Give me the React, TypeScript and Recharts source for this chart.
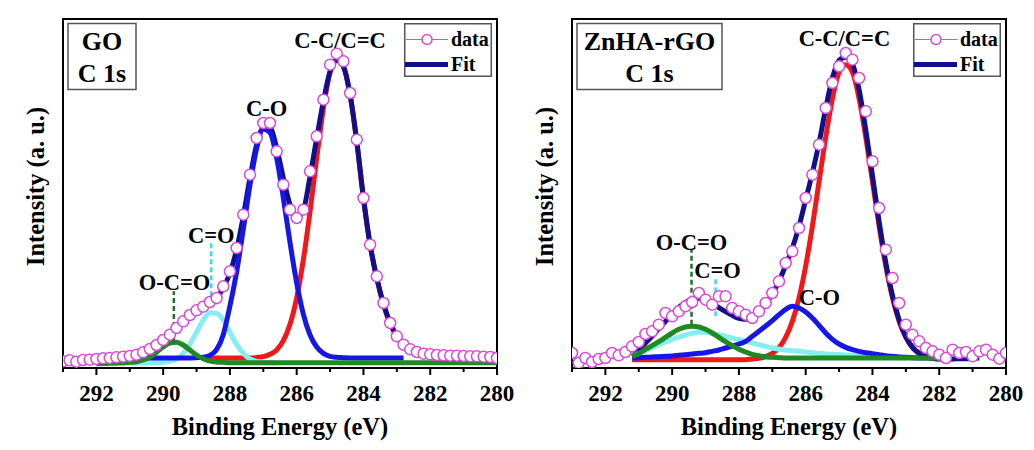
import {
  ComposedChart,
  Line,
  XAxis,
  YAxis,
  ReferenceArea,
  ReferenceDot,
  ReferenceLine,
  Legend,
} from "recharts";

const SERIF = "Liberation Serif, Times New Roman, DejaVu Serif, serif";

const COLORS = {
  data: "#d84ad8",
  fit: "#10108a",
  cc: "#f01818",
  co: "#1616e6",
  c_o: "#84eef2",
  oco: "#1f8a22",
  dashCyan: "#45d6e6",
  dashGreen: "#236e2c",
};

// binding energy grid (eV), shared by both spectra
const ENERGY = [
  293.0, 292.8, 292.6, 292.4, 292.2, 292.0, 291.8, 291.6, 291.4, 291.2,
  291.0, 290.8, 290.6, 290.4, 290.2, 290.0, 289.8, 289.6, 289.4, 289.2,
  289.0, 288.8, 288.6, 288.4, 288.2, 288.0, 287.8, 287.6, 287.4, 287.2,
  287.0, 286.8, 286.6, 286.4, 286.2, 286.0, 285.8, 285.6, 285.4, 285.2,
  285.0, 284.8, 284.6, 284.4, 284.2, 284.0, 283.8, 283.6, 283.4, 283.2,
  283.0, 282.8, 282.6, 282.4, 282.2, 282.0, 281.8, 281.6, 281.4, 281.2,
  281.0, 280.8, 280.6, 280.4, 280.2, 280.0,
];

const TICKS = [293, 292, 291, 290, 289, 288, 287, 286, 285, 284, 283, 282, 281, 280];

// ---- GO, C 1s ----
const GO_DATA = [
  2.0, 2.3, 1.9, 2.4, 2.5, 2.7, 2.9, 3.0, 3.2, 3.4,
  3.6, 4.0, 4.7, 5.7, 6.9, 8.4, 10.0, 12.0, 14.0, 15.9,
  17.3, 18.4, 19.8, 21.0, 24.5, 29.0, 36.0, 46.0, 58.0, 69.0,
  73.5, 73.5, 65.0, 55.0, 47.5, 45.0, 47.5, 59.0, 69.5, 80.5,
  91.0, 94.3, 92.0, 82.5, 68.5, 51.0, 37.0, 27.5, 19.5, 13.5,
  9.5, 7.0, 5.6, 4.8, 4.3, 4.1, 3.9, 3.8, 3.7, 3.7,
  3.6, 3.5, 3.5, 3.4, 3.3, 3.0,
];
const GO_FIT = [
  2.3, 2.3, 2.4, 2.5, 2.6, 2.7, 2.9, 3.0, 3.2, 3.4,
  3.7, 4.1, 4.7, 5.6, 6.8, 8.2, 9.9, 11.8, 13.6, 15.3,
  16.8, 18.1, 19.4, 21.0, 24.0, 28.5, 35.5, 45.5, 57.0, 67.0,
  72.0, 72.0, 66.0, 57.0, 49.0, 45.5, 47.5, 57.5, 69.0, 80.0,
  89.0, 92.5, 90.5, 82.0, 68.0, 51.0, 37.0, 27.0, 19.3, 13.6,
  9.6, 7.1, 5.6, 4.8, 4.3, 4.0, 3.9, 3.8, 3.7, 3.6,
  3.6, 3.5, 3.5, 3.4, 3.3, 3.2,
];
const GO_CC = [
  null, null, null, null, null, null, null, null, null, null,
  null, null, null, null, null, null, null, null, null, null,
  null, 3.0, 3.0, 3.0, 3.0, 3.0, 3.0, 3.0, 3.0, 3.15,
  3.4, 4.1, 5.4, 8.2, 13.1, 21.1, 32.5, 47.0, 63.0, 77.9,
  88.6, 92.3, 90.3, 81.8, 67.8, 50.8, 36.8, 26.8, 19.0, 13.3,
  9.3, 6.8, 5.3, 4.4, 3.8, 3.4, 3.2, 3.1, 3.0, null,
  null, null, null, null, null, null,
];
const GO_CO = [
  null, null, null, null, null, null, null, null, null, null,
  3.0, 3.0, 3.0, 3.0, 3.0, 3.0, 3.0, 3.0, 3.0, 3.0,
  3.1, 3.2, 3.8, 5.5, 10.0, 18.6, 28.8, 41.6, 54.9, 65.9,
  71.7, 70.6, 63.0, 51.0, 37.6, 25.5, 16.1, 9.9, 6.3, 4.4,
  3.5, 3.2, 3.1, 3.0, 3.0, 3.0, 3.0, 3.0, 3.0, 3.0,
  3.0, 3.0, null, null, null, null, null, null, null, null,
  null, null, null, null, null, null,
];
const GO_C_O = [
  null, null, null, null, null, null, null, null, null, null,
  1.5, 1.5, 1.5, 1.5, 1.6, 1.7, 2.0, 2.7, 4.4, 7.1,
  10.7, 14.4, 16.6, 16.4, 14.4, 10.7, 7.1, 4.4, 2.7, 2.0,
  1.7, 1.6, 1.5, null, null, null, null, null, null, null,
  null, null, null, null, null, null, null, null, null, null,
  null, null, null, null, null, null, null, null, null, null,
  null, null, null, null, null, null,
];
const GO_OCO = [
  null, null, null, null, null, 1.3, 1.35, 1.4, 1.45, 1.5,
  1.7, 1.9, 2.4, 3.3, 4.7, 6.3, 7.5, 7.7, 6.9, 5.4,
  3.9, 2.8, 2.1, 1.8, 1.7, 1.6, 1.6, 1.6, 1.6, 1.6,
  1.6, 1.6, 1.6, 1.6, 1.6, 1.6, 1.6, 1.6, 1.6, 1.6,
  1.6, 1.6, 1.6, 1.6, 1.6, 1.6, 1.6, 1.6, 1.6, 1.6,
  1.6, 1.6, 1.6, 1.6, 1.6, 1.6, 1.6, 1.6, 1.6, 1.6,
  1.6, 1.6, 1.6, 1.6, 1.6, 1.6,
];

// ---- ZnHA-rGO, C 1s ----
const ZN_DATA = [
  4.5, 1.5, 3.0, 1.8, 2.7, 3.0, 4.5, 3.8, 4.8, 6.5,
  7.8, 10.2, 11.0, 13.0, 16.5, 15.5, 17.0, 18.5, 19.8, 22.5,
  20.5, 19.0, 21.5, 21.5, 18.0, 17.0, 16.0, 15.0, 17.0, 19.5,
  22.5, 26.0, 31.5, 35.0, 42.0, 51.0, 58.0, 67.0, 78.0, 85.5,
  90.5, 94.5, 92.5, 87.0, 77.0, 62.0, 48.0, 35.5, 27.0, 19.5,
  13.0, 10.0, 8.0, 6.0, 5.0, 4.0, 3.0, 5.5, 4.5, 4.8,
  3.5, 5.0, 5.5, 4.0, 2.8, 4.5,
];
const ZN_FIT = [
  null, null, null, null, null, null, null, null, null, 3.5,
  5.2, 7.5, 9.5, 11.8, 14.0, 16.2, 18.2, 19.7, 20.6, 20.9,
  20.4, 19.4, 18.1, 16.9, 15.8, 14.9, 14.6, 15.2, 16.8, 19.2,
  22.3, 26.0, 30.8, 36.0, 42.5, 50.5, 58.5, 67.5, 77.9, 87.0,
  92.3, 93.2, 91.2, 83.5, 71.4, 57.7, 43.9, 31.6, 21.7, 14.4,
  9.4, 6.2, 4.4, 3.4, 2.9, 2.7, 2.7, 2.7, 2.8, 2.8,
  2.9, 3.0, null, null, null, null,
];
const ZN_CC = [
  null, null, null, null, null, null, null, null, null, 2.5,
  2.5, 2.5, 2.5, 2.5, 2.5, 2.5, 2.5, 2.5, 2.5, 2.5,
  2.5, 2.5, 2.5, 2.5, 2.5, 2.5, 2.5, 2.7, 2.9, 3.4,
  4.4, 6.1, 9.2, 14.0, 21.0, 30.6, 42.5, 55.9, 69.2, 80.8,
  88.7, 91.0, 88.7, 80.8, 69.2, 55.9, 42.5, 30.6, 21.0, 14.0,
  9.2, 6.1, 4.4, 3.4, 2.9, 2.7, null, null, null, null,
  null, null, null, null, null, null,
];
const ZN_CO = [
  null, null, null, null, null, null, null, null, null, 3.0,
  3.1, 3.2, 3.3, 3.4, 3.5, 3.6, 3.8, 4.0, 4.2, 4.4,
  4.6, 5.0, 5.4, 6.0, 6.6, 7.2, 8.0, 9.5, 11.0, 12.6,
  14.2, 16.0, 17.6, 18.5, 18.0, 16.8, 15.0, 12.8, 10.5, 8.6,
  7.2, 6.2, 5.5, 5.0, 4.6, 4.3, 4.0, 3.7, 3.5, 3.3,
  3.2, 3.1, 3.0, 3.0, 3.0, null, null, null, null, null,
  null, null, null, null, null, null,
];
const ZN_C_O = [
  null, null, null, null, null, null, null, null, null, 3.5,
  4.3, 5.2, 6.0, 7.0, 7.8, 8.6, 9.3, 9.9, 10.4, 10.7,
  10.7, 10.4, 10.0, 9.5, 9.0, 8.5, 8.0, 7.5, 7.0, 6.5,
  6.0, 5.7, 5.4, 5.2, 5.0, 4.8, 4.6, 4.4, 4.2, 4.1,
  4.0, 3.9, 3.8, 3.7, 3.6, 3.5, 3.4, 3.3, 3.2, 3.1,
  3.0, null, null, null, null, null, null, null, null, null,
  null, null, null, null, null, null,
];
const ZN_OCO = [
  null, null, null, null, null, null, null, null, null, 3.5,
  4.3, 5.6, 6.7, 7.9, 9.2, 10.5, 11.6, 12.3, 12.5, 12.3,
  11.6, 10.5, 9.2, 7.9, 6.7, 5.6, 4.8, 4.1, 3.7, 3.4,
  3.2, 3.1, 3.0, 3.0, 3.0, 3.0, 3.0, 3.0, 3.0, 3.0,
  3.0, 3.0, 3.0, 3.0, 3.0, 3.0, 3.0, 3.0, 3.0, 3.0,
  3.0, 3.0, 3.0, 3.0, 3.0, 3.0, null, null, null, null,
  null, null, null, null, null, null,
];

// peak annotations: label text at (energy, intensity), dashed markers below
const GO_PEAKS = [
  { text: "C-C/C=C", e: 284.7, y: 98.3 },
  { text: "C-O", e: 286.9, y: 78.1 },
  { text: "C=O", e: 288.56, y: 40.0 },
  { text: "O-C=O", e: 289.66, y: 25.7 },
];
const GO_MARKS = [
  { e: 288.56, from: 21.5, to: 38.0, color: COLORS.dashCyan },
  { e: 289.68, from: 7.5, to: 23.0, color: COLORS.dashGreen },
];
const ZN_PEAKS = [
  { text: "C-C/C=C", e: 284.84, y: 99.1 },
  { text: "O-C=O", e: 289.42, y: 37.9 },
  { text: "C=O", e: 288.64, y: 29.5 },
  { text: "C-O", e: 285.59, y: 21.4 },
];
const ZN_MARKS = [
  { e: 289.42, from: 13.0, to: 35.5, color: COLORS.dashGreen },
  { e: 288.7, from: 15.5, to: 27.2, color: COLORS.dashCyan },
];

const buildRows = (
  data: number[],
  fit: (number | null)[],
  cc: (number | null)[],
  co: (number | null)[],
  c_o: (number | null)[],
  oco: (number | null)[]
) =>
  ENERGY.map((e, i) => ({
    e,
    data: data[i],
    fit: fit[i],
    cc: cc[i],
    co: co[i],
    c_o: c_o[i],
    oco: oco[i],
  }));

const goRows = buildRows(GO_DATA, GO_FIT, GO_CC, GO_CO, GO_C_O, GO_OCO);
const znRows = buildRows(ZN_DATA, ZN_FIT, ZN_CC, ZN_CO, ZN_C_O, ZN_OCO);

const Y_MAX = 104.7;
const BOLD = { fontFamily: SERIF, fontWeight: 700 };

function EnergyTick({ x, y, payload }: any) {
  const major = payload.value % 2 === 0;
  return (
    <g>
      <line x1={x} x2={x} y1={y} y2={y + (major ? 7 : 4)} stroke="#000" strokeWidth={2} />
      {major && (
        <text x={x} y={y + 32.5} textAnchor="middle" fontSize={23} fill="#000" style={BOLD}>
          {payload.value}
        </text>
      )}
    </g>
  );
}

function IntensityTitle({ viewBox }: any) {
  const cx = viewBox.x + 35.5;
  const cy = viewBox.y + viewBox.height / 2 - 7;
  return (
    <text
      x={cx}
      y={cy}
      transform={`rotate(-90 ${cx} ${cy})`}
      textAnchor="middle"
      dominantBaseline="central"
      fontSize={24.5}
      fill="#000"
      style={BOLD}
    >
      Intensity (a. u.)
    </text>
  );
}

function SampleTag({ viewBox, lines, width }: any) {
  const x = viewBox.x + 5;
  const y = viewBox.y + 4.5;
  return (
    <g>
      <rect x={x} y={y} width={width} height={66} fill="#fff" stroke="#555" strokeWidth={1.5} />
      {lines.map((t: string, i: number) => (
        <text
          key={t}
          x={x + width / 2}
          y={y + 26.5 + i * 32}
          textAnchor="middle"
          fontSize={26}
          fill="#000"
          style={BOLD}
        >
          {t}
        </text>
      ))}
    </g>
  );
}

function FitLegend({ payload }: any) {
  const order = ["data", "fit"];
  const items = order
    .map((k) => (payload || []).find((p: any) => p.dataKey === k))
    .filter(Boolean);
  return (
    <svg width={88} height={54} style={{ display: "block" }}>
      <rect x={0.75} y={0.75} width={86.5} height={52.5} fill="#fff" stroke="#555" strokeWidth={1.5} />
      {items.map((item: any, i: number) => {
        const cy = 16.5 + i * 25;
        return (
          <g key={item.dataKey}>
            {item.dataKey === "data" ? (
              <>
                <line x1={2} x2={44} y1={cy} y2={cy} stroke={COLORS.data} strokeWidth={1} />
                <circle cx={23} cy={cy} r={5} fill="#fff" stroke={COLORS.data} strokeWidth={1.5} />
              </>
            ) : (
              <line x1={1} x2={44} y1={cy} y2={cy} stroke={COLORS.fit} strokeWidth={5} />
            )}
            <text x={47} y={cy + 6.5} fontSize={20} fill="#000" style={BOLD}>
              {item.value}
            </text>
          </g>
        );
      })}
    </svg>
  );
}

function Panel({ rows, tag, tagWidth, peaks, marks }: any) {
  return (
    <ComposedChart
      width={525}
      height={450}
      data={rows}
      margin={{ top: 19, right: 28, bottom: 0, left: 0 }}
      style={{ fontFamily: SERIF }}
    >
      <XAxis
        dataKey="e"
        type="number"
        domain={[280, 293]}
        allowDataOverflow
        reversed
        ticks={TICKS}
        interval={0}
        tickSize={0}
        tickMargin={0}
        tickLine={false}
        axisLine={false}
        height={82}
        tick={<EnergyTick />}
        label={{
          value: "Binding Energy (eV)",
          position: "insideBottom",
          offset: 15,
          fill: "#000",
          fontSize: 24.5,
          style: BOLD,
        }}
      />
      <YAxis
        type="number"
        domain={[0, Y_MAX]}
        allowDataOverflow
        width={63}
        axisLine={false}
        tickLine={false}
        tick={false}
        label={<IntensityTitle />}
      />
      <ReferenceArea
        x1={293}
        x2={280}
        y1={0}
        y2={Y_MAX}
        fill="none"
        stroke="#000"
        strokeWidth={2}
        label={<SampleTag lines={tag} width={tagWidth} />}
      />

      <Line dataKey="cc" type="monotone" stroke={COLORS.cc} strokeWidth={5} dot={false} activeDot={false} legendType="none" isAnimationActive={false} />
      <Line dataKey="fit" name="Fit" type="monotone" stroke={COLORS.fit} strokeWidth={5} dot={false} activeDot={false} isAnimationActive={false} />
      <Line dataKey="c_o" type="monotone" stroke={COLORS.c_o} strokeWidth={5} dot={false} activeDot={false} legendType="none" isAnimationActive={false} />
      <Line dataKey="co" type="monotone" stroke={COLORS.co} strokeWidth={5} dot={false} activeDot={false} legendType="none" isAnimationActive={false} />
      <Line dataKey="oco" type="monotone" stroke={COLORS.oco} strokeWidth={5} dot={false} activeDot={false} legendType="none" isAnimationActive={false} />
      <Line
        dataKey="data"
        name="data"
        stroke="none"
        dot={{ r: 5.5, fill: "#fff", stroke: COLORS.data, strokeWidth: 1.5 }}
        activeDot={false}
        isAnimationActive={false}
      />

      {marks.map((m: any) => (
        <ReferenceLine
          key={`${m.e}-${m.color}`}
          segment={[
            { x: m.e, y: m.from },
            { x: m.e, y: m.to },
          ]}
          stroke={m.color}
          strokeWidth={2.5}
          strokeDasharray="5 3"
        />
      ))}
      {peaks.map((p: any) => (
        <ReferenceDot
          key={p.text}
          x={p.e}
          y={p.y}
          r={0}
          fill="none"
          stroke="none"
          label={{
            value: p.text,
            position: "center",
            fill: "#000",
            fontSize: 22.5,
            style: BOLD,
          }}
        />
      ))}

      <Legend
        content={<FitLegend />}
        layout="vertical"
        align="center"
        verticalAlign="middle"
        wrapperStyle={{ left: 404, top: 23, width: 88, height: 54 }}
      />
    </ComposedChart>
  );
}

export default function App() {
  return (
    <div
      style={{
        position: "absolute",
        left: 0,
        top: 0,
        width: 1034,
        height: 450,
        background: "#fff",
        fontFamily: SERIF,
      }}
    >
      <div style={{ position: "absolute", left: 0, top: 0 }}>
        <Panel rows={goRows} tag={["GO", "C 1s"]} tagWidth={68} peaks={GO_PEAKS} marks={GO_MARKS} />
      </div>
      <div style={{ position: "absolute", left: 509, top: 0 }}>
        <Panel rows={znRows} tag={["ZnHA-rGO", "C 1s"]} tagWidth={145} peaks={ZN_PEAKS} marks={ZN_MARKS} />
      </div>
    </div>
  );
}
